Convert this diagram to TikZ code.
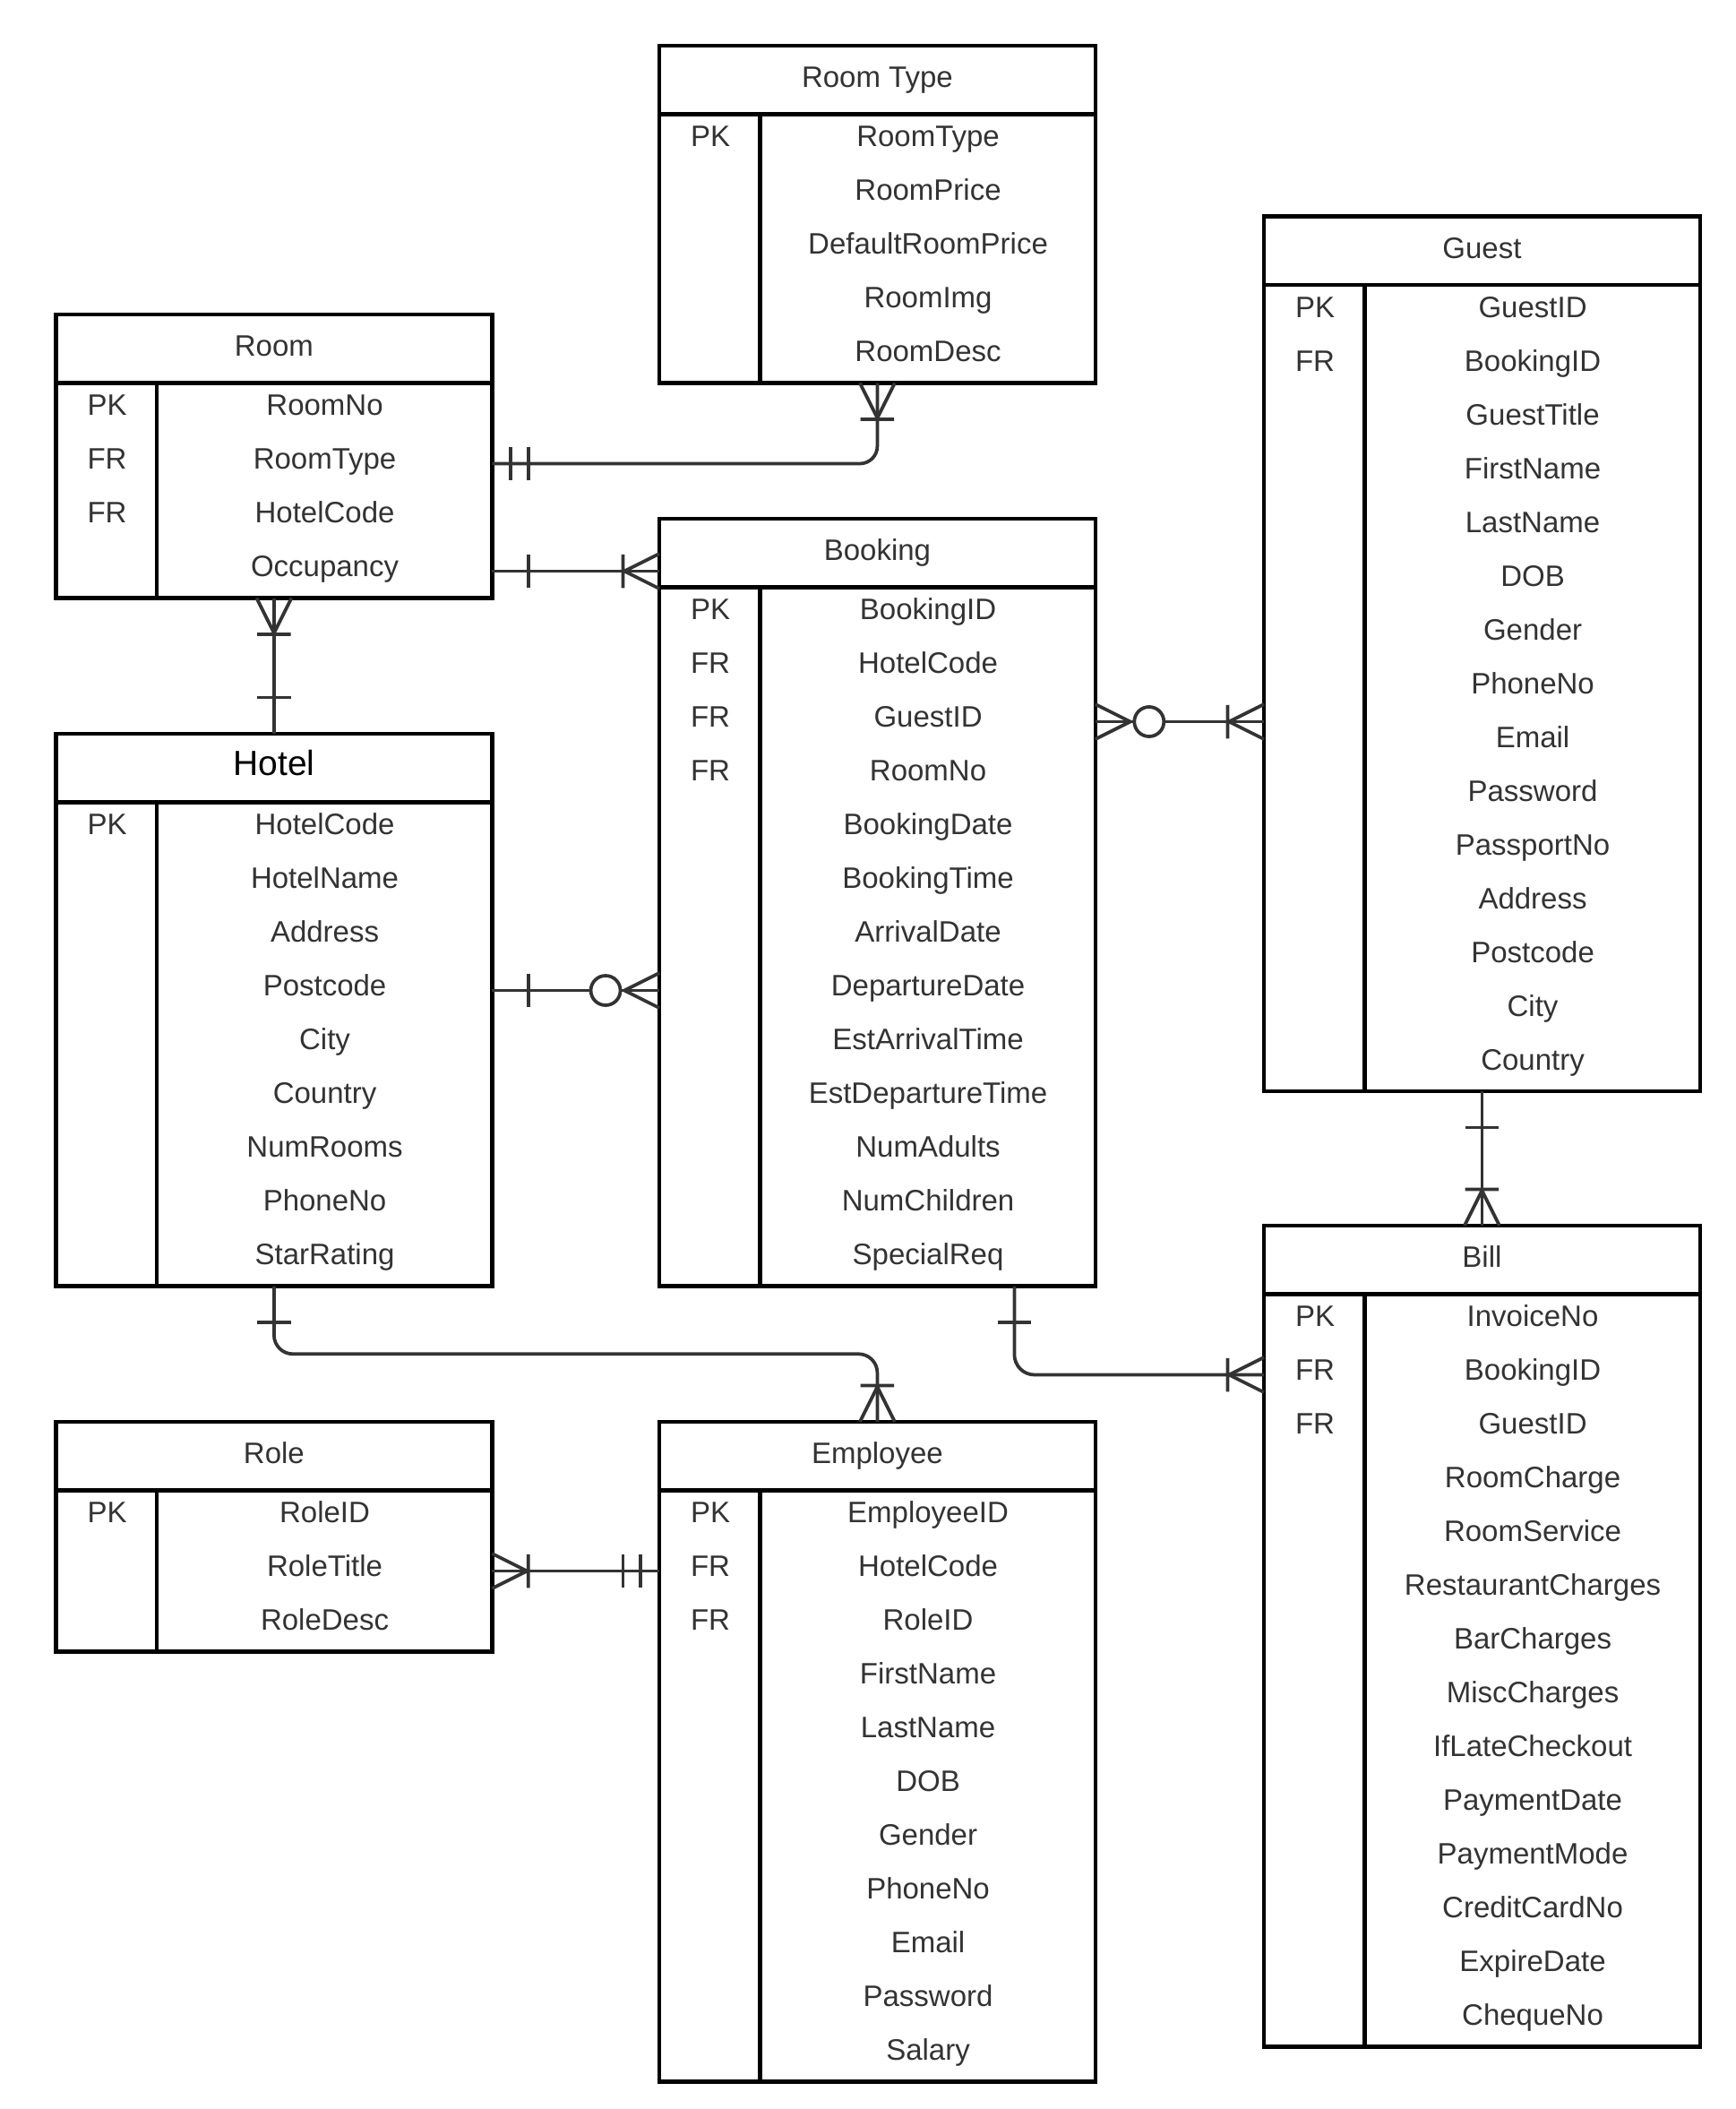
\documentclass[tikz,border=0pt]{standalone}
\usepackage{fontspec}
\setmainfont{Liberation Sans}
\usetikzlibrary{calc,decorations.markings}
\definecolor{ergray}{HTML}{333333}

\tikzset{
  box/.style={draw=black, line width=3pt, minimum width=324.5pt, inner sep=0pt, outer sep=0pt},
  head/.style={box, minimum height=51pt},
  row/.style={minimum width=324.5pt, minimum height=40pt, inner sep=0pt, outer sep=0pt},
  txt/.style={text=ergray, font=\fontsize{22}{26}\selectfont, anchor=base, inner sep=0pt},
  rel/.style={draw=ergray, line width=2.5pt},
  relmark/.style={draw=ergray, line width=2.5pt, sharp corners},
  at start/.style={postaction={decorate,decoration={markings,
      mark=at position 0 with {\begin{scope}[xscale=-1]#1\end{scope}}}}},
  at end/.style={postaction={decorate,decoration={markings,
      mark=at position 1 with {#1}}}},
}

% end marks, entity at x=0
\newcommand{\erone}{\draw[relmark] (-27,-12.5) -- (-27,12.5);}
\newcommand{\eronlyone}{\draw[relmark] (-27,-12.5) -- (-27,12.5) (-14,-12.5) -- (-14,12.5);}
\newcommand{\ermany}{\draw[relmark] (0,-13) -- (-26,0) -- (0,13) (-27,-12.5) -- (-27,12.5);}
\newcommand{\erzeromany}{\draw[relmark] (0,-13) -- (-26,0) -- (0,13);
  \draw[relmark, fill=white] (-40,0) circle (11pt);}

% #1 name, #2 x, #3 y, #4 rows, #5 title, #6 key/field list
\newcommand{\ertable}[6]{%
  \node[box, minimum height=51pt+40pt*#4, anchor=north west] (#1) at (#2,#3) {};
  \node[head, anchor=north west] (#1-head) at (#2,#3) {};
  \node[txt] (#1-title) at (#2+162.25, #3+31) {#5};
  \draw[line width=3pt] (#2+75, #3+51) -- (#2+75, #3+51+40*#4);
  \foreach [count=\i] \k/\f in {#6} {
    \node[row, anchor=north west] (#1-r\i) at (#2, #3+11+40*\i) {};
    \node[txt] (#1-k\i) at (#2+38, #3+35+40*\i) {\k};
    \node[txt] (#1-f\i) at (#2+200, #3+35+40*\i) {\f};
  }
}

\begin{document}
\begin{tikzpicture}[x=1pt,y=-1pt]
  \useasboundingbox (0,0) rectangle (1291.33,1569.33);
  \fill[white] (0,0) rectangle (1291.33,1569.33);

  \ertable{roomtype}{490.7}{34}{5}{Room Type}{PK/RoomType, /RoomPrice, /DefaultRoomPrice, /RoomImg, /RoomDesc}
  \ertable{guest}{940.7}{161}{15}{Guest}{PK/GuestID, FR/BookingID, /GuestTitle, /FirstName, /LastName, /DOB, /Gender,
    /PhoneNo, /Email, /Password, /PassportNo, /Address, /Postcode, /City, /Country}
  \ertable{room}{41.7}{234}{4}{Room}{PK/RoomNo, FR/RoomType, FR/HotelCode, /Occupancy}
  \ertable{booking}{490.7}{386}{13}{Booking}{PK/BookingID, FR/HotelCode, FR/GuestID, FR/RoomNo, /BookingDate,
    /BookingTime, /ArrivalDate, /DepartureDate, /EstArrivalTime, /EstDepartureTime, /NumAdults, /NumChildren, /SpecialReq}
  \ertable{hotel}{41.7}{546}{9}{{\fontsize{26}{30}\selectfont\color{black}Hotel}}{PK/HotelCode, /HotelName, /Address,
    /Postcode, /City, /Country, /NumRooms, /PhoneNo, /StarRating}
  \ertable{role}{41.7}{1058}{3}{Role}{PK/RoleID, /RoleTitle, /RoleDesc}
  \ertable{employee}{490.7}{1058}{11}{Employee}{PK/EmployeeID, FR/HotelCode, FR/RoleID, /FirstName, /LastName, /DOB,
    /Gender, /PhoneNo, /Email, /Password, /Salary}
  \ertable{bill}{940.7}{912}{14}{Bill}{PK/InvoiceNo, FR/BookingID, FR/GuestID, /RoomCharge, /RoomService,
    /RestaurantCharges, /BarCharges, /MiscCharges, /IfLateCheckout, /PaymentDate, /PaymentMode, /CreditCardNo,
    /ExpireDate, /ChequeNo}

  % relationships
  \draw[rel, rounded corners=13pt, at start=\eronlyone, at end=\ermany] (room-r2.east) -| (roomtype.south);
  \draw[rel, at start=\erone, at end=\ermany] (room-r4.east) -- (room-r4.east -| booking.west);
  \draw[rel, at start=\ermany, at end=\erone] (room.south) -- (hotel.north);
  \draw[rel, at start=\erzeromany, at end=\ermany] (booking-r3.east) -- (booking-r3.east -| guest.west);
  \draw[rel, at start=\erone, at end=\erzeromany] (hotel-r4.east) -- (hotel-r4.east -| booking.west);
  \draw[rel, at start=\erone, at end=\ermany] (guest.south) -- (bill.north);
  \draw[rel, rounded corners=14pt, at start=\erone, at end=\ermany]
    (hotel.south) |- ($(hotel.south)!.5!(employee.north)$) -| (employee.north);
  \draw[rel, rounded corners=15pt, at start=\erone, at end=\ermany]
    ($(booking.south)+(102,0)$) |- (bill-r2.west);
  \draw[rel, at start=\ermany, at end=\eronlyone] (role-r2.east) -- (role-r2.east -| employee.west);
\end{tikzpicture}
\end{document}
